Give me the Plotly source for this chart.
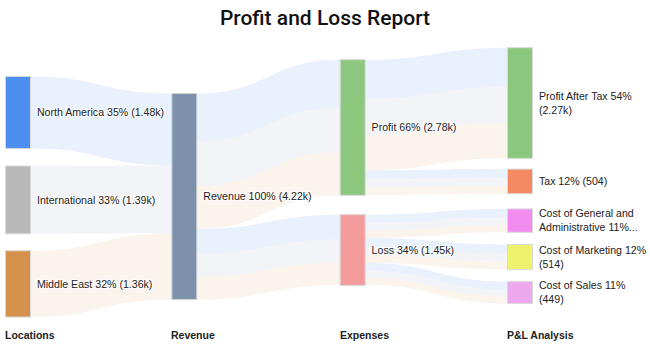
import plotly.graph_objects as go

# ---- data ----
node_names = ["North America", "International", "Middle East", "Revenue",
              "Profit", "Loss", "Profit After Tax", "Tax",
              "Cost of General and Administrative", "Cost of Marketing", "Cost of Sales"]
node_values = [1480, 1390, 1360, 4220, 2780, 1450, 2270, 504, 480, 514, 449]
total_revenue = 4220
column_titles = ["Locations", "Revenue", "Expenses", "P&L Analysis"]

# flows split by location (North America, International, Middle East)
loc_to_revenue = [1480, 1390, 1360]
revenue_to_profit = [975, 915, 890]
revenue_to_loss = [505, 475, 470]
profit_to_pat = [800, 745, 725]
profit_to_tax = [175, 170, 159]
loss_to_ga = [165, 160, 155]
loss_to_marketing = [180, 170, 164]
loss_to_sales = [155, 145, 149]

# ---- styles / layout ----
node_colors = ["#4C8FF0", "#B8B8B8", "#D5914C", "#7D91AD", "#8BC87E", "#F49C9C",
               "#8BC87E", "#F58A62", "#F28CF0", "#EEF26C", "#EEA9EE"]
loc_link_colors = ["rgba(76,143,240,0.12)", "rgba(130,145,185,0.10)", "rgba(213,145,76,0.10)"]
node_x = [0.001, 0.332, 0.667, 1.0]
col_of_node = [0, 0, 0, 1, 2, 2, 3, 3, 3, 3, 3]
node_y = [0.259, 0.571, 0.871, 0.559, 0.3125, 0.75, 0.225, 0.505, 0.645, 0.775, 0.902]

def fmt(v):
    return f"{v/1000:.2f}k" if v >= 1000 else str(v)

SP = "\u00a0"
labels = []
for name, v, c in zip(node_names, node_values, col_of_node):
    pct = round(v / total_revenue * 100)
    if c < 3 or len(name) <= 4:
        lines = [f"{name} {pct}% ({fmt(v)})"]
    elif len(name) > 20:
        words = name.split(" ")
        lines = [" ".join(words[:4]), " ".join(words[4:]) + f" {pct}%..."]
    else:
        lines = [f"{name} {pct}%", f"({fmt(v)})"]
    labels.append("<br>".join(SP + ln for ln in lines))

src, tgt, val, col = [], [], [], []
def add(s, t, vals):
    for i, v in enumerate(vals):
        src.append(s); tgt.append(t); val.append(v); col.append(loc_link_colors[i])
for i in range(3):
    src.append(i); tgt.append(3); val.append(loc_to_revenue[i]); col.append(loc_link_colors[i])
add(3, 4, revenue_to_profit)
add(3, 5, revenue_to_loss)
add(4, 6, profit_to_pat)
add(4, 7, profit_to_tax)
add(5, 8, loss_to_ga)
add(5, 9, loss_to_marketing)
add(5, 10, loss_to_sales)

# invisible helper column (off-canvas) so the last visible column keeps its labels on the right
n_real = len(node_names)
helper = n_real
for i in range(6, n_real):
    src.append(i); tgt.append(helper); val.append(0.001); col.append("rgba(0,0,0,0)")
all_labels = labels + [""]
all_colors = node_colors + ["rgba(0,0,0,0)"]
xs = [node_x[c] for c in col_of_node] + [1.8]
ys = node_y + [0.5]

W = 650; H = 354
dom_x_px = (17.5, 520.0)
dom_y_px = (40.0, 320.0)

fig = go.Figure(go.Sankey(
    arrangement="fixed",
    domain=dict(x=[dom_x_px[0] / W, dom_x_px[1] / W],
                y=[1 - dom_y_px[1] / H, 1 - dom_y_px[0] / H]),
    node=dict(label=all_labels, color=all_colors, pad=18.6, thickness=25,
              x=xs, y=ys,
              line=dict(color="#D9D9D9", width=1), hoverinfo="none"),
    link=dict(source=src, target=tgt, value=val, color=col, hoverinfo="none"),
    textfont=dict(family="Liberation Sans, Arial", size=10.6, color="#222222"),
))

annotations = []
for i, t in enumerate(column_titles):
    left_px = dom_x_px[0] + node_x[i] * (dom_x_px[1] - dom_x_px[0]) - 12.5 - 2.5
    annotations.append(dict(text=f"<b>{t}</b>", x=left_px / W, y=1 - 335 / H,
                            xref="paper", yref="paper", xanchor="left", yanchor="middle",
                            showarrow=False,
                            font=dict(family="Liberation Sans, Arial", size=10.5, color="#222222")))

fig.update_layout(
    width=W, height=H, margin=dict(l=0, r=0, t=0, b=0),
    paper_bgcolor="white",
    title=dict(text="Profit and Loss Report", x=0.5, xanchor="center", y=1 - 18 / H, yanchor="middle",
               font=dict(family="Roboto", size=21, weight=500, color="#111111")),
    annotations=annotations,
)
fig.write_html("out.html")
